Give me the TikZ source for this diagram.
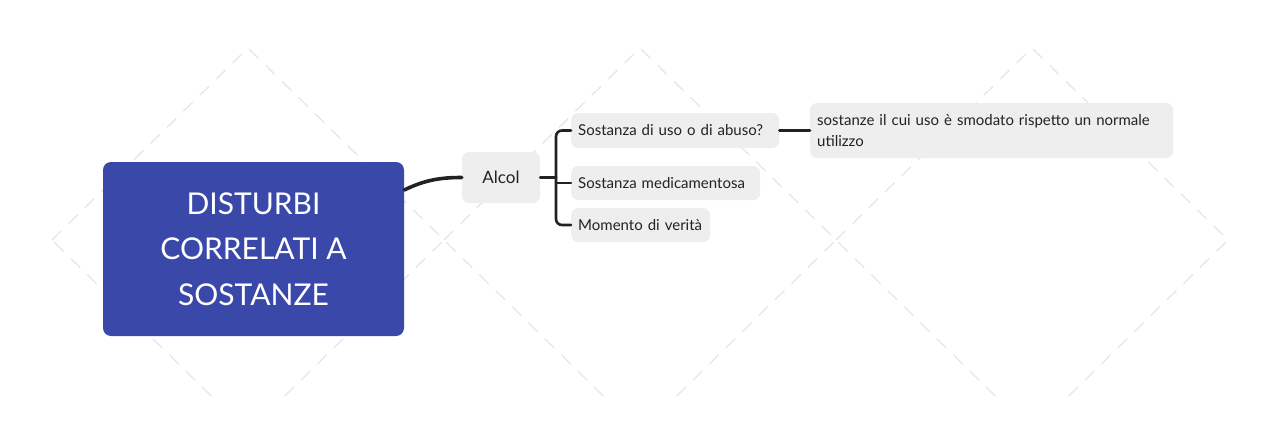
\documentclass[tikz,border=0pt]{standalone}
\usepackage{fontspec}
\setmainfont{Lato}
\definecolor{mainblue}{HTML}{3A49A9}
\definecolor{boxgrey}{HTML}{EEEEEE}
\definecolor{bgdash}{HTML}{E4E4E4}
\definecolor{ink}{HTML}{222222}
\begin{document}
\begin{tikzpicture}[x=1pt,y=-1pt,
  bgline/.style={draw=bgdash, line width=1.2pt, dash pattern=on 13pt off 10pt},
  mainbox/.style={fill=mainblue, rounded corners=8pt, text=white, align=center, inner sep=0pt,
     font=\fontsize{30}{45.5}\selectfont},
  greybox/.style={fill=boxgrey, rounded corners=7pt, text=ink, inner sep=0pt},
  childbox/.style={greybox, align=left, inner xsep=7pt, inner ysep=0pt, minimum height=35pt,
     font=\fontsize{15}{17}\selectfont},
  conn/.style={draw=ink, line width=2.6pt, line cap=round},
  thickconn/.style={draw=ink, line width=3.6pt, line cap=round}
]
\useasboundingbox (0,0) rectangle (1280,442);
% background pattern
\begin{scope}
  \clip (0,40) rectangle (1280,395);
  \foreach \cx in {248,640,1032}{
    \draw[bgline] (\cx-196,240) -- (\cx,48) -- (\cx+196,240) -- (\cx,432) -- cycle;
  }
\end{scope}
% nodes
\node[mainbox, minimum width=301pt, minimum height=174pt] (main) at (253.5,249)
  {DISTURBI\\CORRELATI A\\SOSTANZE};
\node[greybox, minimum width=78pt, minimum height=51pt, font=\fontsize{17}{20}\selectfont] (alcol) at (501,177.5) {Alcol};
\node[childbox, text width=194pt, anchor=west] (c1) at (571,130.5) {Sostanza di uso o di abuso?};
\node[childbox, text width=175pt, anchor=west, minimum height=34pt] (c2) at (571,183) {Sostanza medicamentosa};
\node[childbox, text width=125pt, anchor=west, minimum height=34pt] (c3) at (571,225) {Momento di verità};
\node[greybox, anchor=west, text width=349pt, align=left, inner xsep=7pt, minimum height=55pt,
      font=\fontsize{15}{21}\selectfont] (gc) at (810,130.5)
  {sostanze il cui uso è smodato rispetto un normale\\utilizzo};
% connectors
\draw[thickconn] ([yshift=59pt]main.east) .. controls (425,180) and (440,177.5) .. (alcol.west);
\coordinate (fork) at (556,177.5);
\draw[conn] (alcol.east) -- (fork);
\draw[conn, rounded corners=6pt] (fork) |- (c1.west);
\draw[conn, rounded corners=6pt] (fork) |- (c3.west);
\draw[conn] (fork |- c2.west) -- (c2.west);
\draw[conn] (c1.east) -- (gc.west);
\end{tikzpicture}
\end{document}
